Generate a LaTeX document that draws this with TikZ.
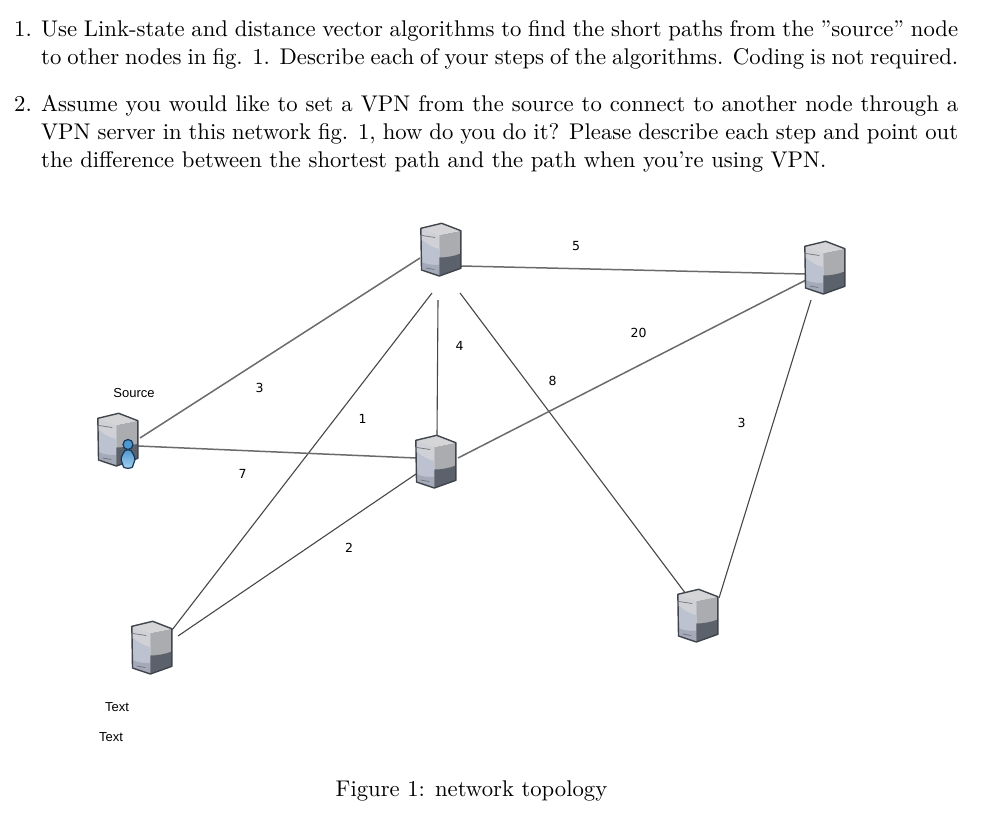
\documentclass[tikz,border=0pt]{standalone}
\usepackage{fontspec}
\newfontfamily\lblfont{Liberation Sans}
\newfontfamily\numfont{DejaVu Sans}
\newfontfamily\bodyfont{lmroman10-regular.otf}
\definecolor{srvline}{HTML}{40444C}
\definecolor{srvlefta}{HTML}{D0D1D7}
\definecolor{srvleftb}{HTML}{BDC2D1}
\definecolor{srvleftc}{HTML}{A4AABA}
\definecolor{srvright}{HTML}{ABACB0}
\definecolor{srvtop}{HTML}{D5D5D8}
\definecolor{srvdark}{HTML}{5C626C}
\definecolor{usrline}{HTML}{16375A}
\definecolor{usrfill}{HTML}{4F97CF}
\definecolor{usrlight}{HTML}{A5D2EE}
\tikzset{
  x=1pt,y=-1pt,
  body/.style={font=\bodyfont\fontsize{22.7}{28}\selectfont,inner sep=0pt,anchor=base west},
  srv/.style={rectangle,minimum width=41pt,minimum height=52pt,inner sep=0pt,draw=none},
  linka/.style={draw=black!58,line width=1.5pt},
  linkb/.style={draw=black!72,line width=1.1pt},
  lbl/.style={font=\lblfont\fontsize{13}{15}\selectfont,inner sep=0pt},
  num/.style={font=\numfont\fontsize{12.5}{15}\selectfont,inner sep=0pt},
  server/.pic={
    \begin{scope}[xscale=.96]
    \fill[srvleftb] (-21,-21.7) -- (-1.7,-15) -- (-1.7,26) -- (-20.3,20) -- cycle;
    \fill[srvleftc] (-20.3,12) .. controls (-14,15) and (-8,15) .. (-1.7,15) -- (-1.7,26) -- (-20.3,20) -- cycle;
    \fill[srvlefta] (-21,-21.7) -- (-1.7,-15) -- (-1.7,-1) .. controls (-10,-3) and (-17,-7) .. (-21,-12) -- cycle;
    \fill[srvright] (-1.7,-15) -- (20.7,-19.3) -- (20.7,18.3) -- (-1.7,26) -- cycle;
    \fill[srvtop] (-21,-21.7) -- (0.7,-26.7) -- (20.7,-19.3) -- (-1.7,-15) -- cycle;
    \fill[srvdark] (-1.7,7.5) .. controls (6,7.5) and (14,6) .. (20.7,3.5) -- (20.7,18.3) -- (-1.7,26) -- cycle;
    \draw[black!55,line width=.7pt] (-20,-14.5) -- (-6,-12.5);
    \draw[black!55,line width=.7pt] (-16,18) -- (-7,19.5);
    \draw[srvline,line width=1.4pt,line join=round] (-21,-21.7) -- (0.7,-26.7) -- (20.7,-19.3) -- (20.7,18.3) -- (-1.7,26) -- (-20.3,20) -- cycle;
    \end{scope}
  }
}
\begin{document}
\begin{tikzpicture}
\useasboundingbox (0,0) rectangle (1006,822);

\node[body] (n1) at (14,36) {1.};
\node[body] (t1) at (41,36) {\hbox to 917pt{Use Link-state and distance vector algorithms to find the short paths from the ”source” node}};
\node[body] (t2) at (41,64) {\hbox to 917pt{to other nodes in fig. 1. Describe each of your steps of the algorithms. Coding is not required.}};
\node[body] (n2) at (14,111.5) {2.};
\node[body] (t3) at (41,111.5) {\hbox to 917pt{Assume you would like to set a VPN from the source to connect to another node through a}};
\node[body] (t4) at (41,139.5) {\hbox to 917pt{VPN server in this network fig. 1, how do you do it? Please describe each step and point out}};
\node[body] (t5) at (41,167.5) {the difference between the shortest path and the path when you’re using VPN.};

\node[srv] (top) at (441,250) {};
\node[srv] (right) at (825,268) {};
\node[srv] (source) at (118,440) {};
\node[srv] (mid) at (436,462) {};
\node[srv] (bl) at (152,648) {};
\node[srv] (br) at (698,616) {};

\coordinate (topA) at (432,293);
\coordinate (topB) at (438,300);
\coordinate (topC) at (460,293);
\coordinate (rightA) at (811,300);
\coordinate (blB) at (178,636);
\coordinate (midE) at (458,458);
\coordinate (srcN) at (140,438);
\coordinate (topW) at (420,258);
\coordinate (topE) at (461,266);
\coordinate (rightW) at (806,274);
\coordinate (blA) at (172,630);
\coordinate (midN) at (437,436);
\coordinate (brA) at (686,594);
\coordinate (srcE) at (138,446);
\coordinate (midW) at (416,458);
\coordinate (rightS) at (806,280);
\coordinate (midS) at (416,474);
\coordinate (brE) at (719,598);

\draw[linka] (srcN) -- (topW);
\draw[linka] (topE) -- (rightW);
\draw[linkb] (topA) -- (blA);
\draw[linkb] (topB) -- (midN);
\draw[linkb] (topC) -- (brA);
\draw[linka] (srcE) -- (midW);
\draw[linka] (midE) -- (rightS);
\draw[linkb] (midS) -- (blB);
\draw[linkb] (rightA) -- (brE);

\pic at (top) {server};
\pic at (right) {server};
\pic at (source) {server};
\pic at (mid) {server};
\pic at (bl) {server};
\pic at (br) {server};

% user figure on the source server
\shade[top color=usrfill,bottom color=usrlight,draw=usrline,line width=1.2pt]
  (125,450.5) .. controls (126.5,449.5) and (129.5,449.5) .. (131,450.5)
  .. controls (133.5,454) and (135.5,458) .. (134.8,460.5)
  .. controls (134,463) and (132.8,465) .. (132.5,467)
  .. controls (130,468.7) and (126,468.7) .. (123.5,467)
  .. controls (123.2,465) and (122,463) .. (121.2,460.5)
  .. controls (120.5,458) and (122.5,454) .. (125,450.5) -- cycle;
\fill[usrfill,draw=usrline,line width=1.2pt] (128,444.5) circle (5);

\node[lbl] (srcl) at (134,393) {Source};
\node[lbl] (t6) at (117,707.5) {Text};
\node[lbl] (t7) at (111,737.5) {Text};

\node[num] (w1) at (259.5,388) {3};
\node[num] (w2) at (576,246) {5};
\node[num] (w3) at (362.5,419) {1};
\node[num] (w4) at (459.5,346) {4};
\node[num] (w5) at (552.5,381) {8};
\node[num] (w6) at (242.5,474) {7};
\node[num] (w7) at (638.5,333) {20};
\node[num] (w8) at (349,548) {2};
\node[num] (w9) at (741.5,423) {3};

\node[font=\bodyfont\fontsize{22.7}{28}\selectfont,inner sep=0pt] (cap) at (471.5,790.5) {Figure 1: network topology};
\end{tikzpicture}
\end{document}
